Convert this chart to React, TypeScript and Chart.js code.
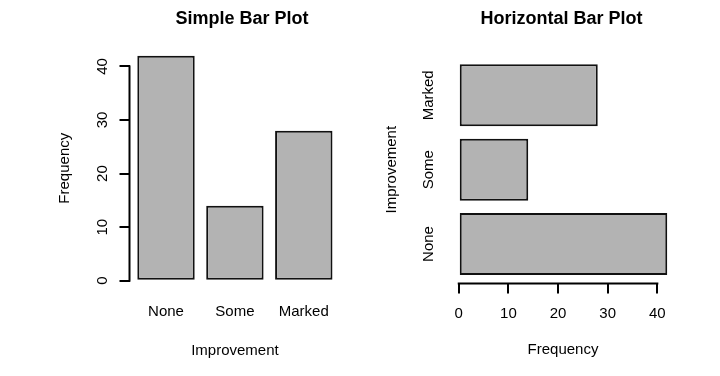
import React, { useEffect, useRef } from "react";
import { Chart, registerables } from "chart.js";

Chart.register(...registerables);

// ---- data ----
const categories = ["None", "Some", "Marked"];
const frequencies = [42, 14, 28];
const freqTicks = [0, 10, 20, 30, 40];
const leftTitle = "Simple Bar Plot";
const rightTitle = "Horizontal Bar Plot";
const catAxisTitle = "Improvement";
const valAxisTitle = "Frequency";

// ---- R barplot layout constants (width 1, space 0.2, 4% axis extension) ----
const BAR_W = 1;
const BAR_SPACE = 0.2;
const centers = categories.map((_, i) => BAR_SPACE + BAR_W / 2 + i * (BAR_W + BAR_SPACE));
const ext = (a: number, b: number) => {
  const d = (b - a) * 0.04;
  return [a - d, b + d];
};
const [catMin, catMax] = ext(BAR_SPACE, categories.length * (BAR_W + BAR_SPACE));
const [valMin, valMax] = ext(0, Math.max(...frequencies));

const FONT = "'Liberation Sans', Arial, Helvetica, sans-serif";
const FILL = "#b3b3b3";
const INK = "#000000";
const EDGE = "#111111";
const LINE_W = 2;

Chart.defaults.font.family = FONT;
Chart.defaults.font.size = 15;
Chart.defaults.color = INK;

const axisLinePlugin = {
  id: "axisLine",
  afterDatasetsDraw(chart: any, _args: any, opts: any) {
    if (!opts || !opts.scale) return;
    const s = chart.scales[opts.scale];
    const { ctx, chartArea } = chart;
    const a = s.getPixelForValue(opts.from);
    const b = s.getPixelForValue(opts.to);
    ctx.save();
    ctx.strokeStyle = INK;
    ctx.lineWidth = opts.width ?? LINE_W;
    ctx.lineCap = "square";
    ctx.beginPath();
    if (s.isHorizontal()) {
      const y = chartArea.bottom;
      ctx.moveTo(a, y);
      ctx.lineTo(b, y);
    } else {
      const x = chartArea.left;
      ctx.moveTo(x, a);
      ctx.lineTo(x, b);
    }
    ctx.stroke();
    ctx.restore();
  },
};

const barStyle = {
  backgroundColor: FILL,
  borderColor: EDGE,
  borderWidth: LINE_W,
  borderSkipped: false,
  categoryPercentage: 1,
  barPercentage: BAR_W / (BAR_W + BAR_SPACE),
};

const titleFont = { size: 18, weight: "bold" as const, family: FONT };

function leftConfig(): any {
  return {
    type: "bar",
    data: {
      datasets: [
        {
          ...barStyle,
          data: centers.map((c, i) => ({ x: c, y: frequencies[i] })),
          xAxisID: "x",
          yAxisID: "y",
        },
      ],
    },
    plugins: [axisLinePlugin],
    options: {
      responsive: false,
      animation: false,
      devicePixelRatio: 1,
      layout: { padding: 0 },
      plugins: {
        legend: { display: false },
        tooltip: { enabled: false },
        title: {
          display: true,
          text: leftTitle,
          font: titleFont,
          color: INK,
          padding: { top: 8.4, bottom: 16.7 },
        },
        axisLine: { scale: "y", from: freqTicks[0], to: freqTicks[freqTicks.length - 1] },
      },
      scales: {
        x: {
          type: "linear",
          position: "bottom",
          offset: false,
          min: catMin,
          max: catMax,
          bounds: "data",
          grid: { display: false, drawTicks: false, offset: false },
          border: { display: false },
          afterBuildTicks: (s: any) => {
            s.ticks = centers.map((v) => ({ value: v }));
          },
          ticks: {
            callback: (_v: any, i: number) => categories[i],
            autoSkip: false,
            maxRotation: 0,
            minRotation: 0,
            padding: 13.6,
            color: INK,
          },
          title: { display: true, text: catAxisTitle, color: INK, padding: { top: 0, bottom: 16 } },
          afterFit: (s: any) => {
            s.height = 86.3;
          },
        },
        y: {
          type: "linear",
          position: "left",
          min: valMin,
          max: valMax,
          bounds: "data",
          grid: { display: true, drawOnChartArea: false, drawTicks: true, tickLength: 10, color: INK, lineWidth: LINE_W },
          border: { display: false },
          afterBuildTicks: (s: any) => {
            s.ticks = freqTicks.map((v) => ({ value: v }));
          },
          ticks: { minRotation: 90, maxRotation: 90, crossAlign: "center", padding: 7.8, autoSkip: false, color: INK },
          title: { display: true, text: valAxisTitle, color: INK, padding: { top: 56, bottom: 0 } },
          afterFit: (s: any) => {
            s.width = 129.5;
          },
        },
        pad: {
          type: "linear",
          position: "right",
          display: true,
          grid: { display: false, drawTicks: false },
          border: { display: false },
          ticks: { display: false },
          afterFit: (s: any) => {
            s.width = 484 - 340.3;
          },
        },
      },
    },
  };
}

function rightConfig(): any {
  return {
    type: "bar",
    data: {
      datasets: [
        {
          ...barStyle,
          data: centers.map((c, i) => ({ x: frequencies[i], y: c })),
          xAxisID: "x",
          yAxisID: "y",
        },
      ],
    },
    plugins: [axisLinePlugin],
    options: {
      indexAxis: "y",
      responsive: false,
      animation: false,
      devicePixelRatio: 1,
      layout: { padding: 0 },
      plugins: {
        legend: { display: false },
        tooltip: { enabled: false },
        title: {
          display: true,
          text: rightTitle,
          font: titleFont,
          color: INK,
          padding: { top: 8.4, bottom: 25.9 },
        },
        axisLine: { scale: "x", from: freqTicks[0], to: freqTicks[freqTicks.length - 1] },
      },
      scales: {
        x: {
          type: "linear",
          position: "bottom",
          min: valMin,
          max: valMax,
          bounds: "data",
          grid: { display: true, drawOnChartArea: false, drawTicks: true, tickLength: 10, color: INK, lineWidth: LINE_W },
          border: { display: false },
          afterBuildTicks: (s: any) => {
            s.ticks = freqTicks.map((v) => ({ value: v }));
          },
          ticks: { maxRotation: 0, minRotation: 0, padding: 11, autoSkip: false, color: INK },
          title: { display: true, text: valAxisTitle, color: INK, padding: { top: 0, bottom: 17.5 } },
          afterFit: (s: any) => {
            s.height = 376 - 283.4;
          },
        },
        y: {
          type: "linear",
          position: "left",
          offset: false,
          min: catMin,
          max: catMax,
          bounds: "data",
          grid: { display: false, drawTicks: false, offset: false },
          border: { display: false },
          afterBuildTicks: (s: any) => {
            s.ticks = centers.map((v) => ({ value: v }));
          },
          ticks: {
            callback: (_v: any, i: number) => categories[i],
            minRotation: 90,
            maxRotation: 90,
            crossAlign: "center",
            padding: -3,
            autoSkip: false,
            color: INK,
          },
          title: { display: true, text: catAxisTitle, color: INK, padding: { top: 2.7, bottom: 0 } },
          afterFit: (s: any) => {
            s.width = 70.4;
          },
        },
        pad: {
          type: "linear",
          position: "right",
          display: true,
          grid: { display: false, drawTicks: false },
          border: { display: false },
          ticks: { display: false },
          afterFit: (s: any) => {
            s.width = 363 - 295.6;
          },
        },
      },
    },
  };
}

function ChartCanvas({ config, left, width }: { config: () => any; left: number; width: number }) {
  const ref = useRef<HTMLCanvasElement | null>(null);
  useEffect(() => {
    if (!ref.current) return;
    const chart = new Chart(ref.current, config());
    return () => chart.destroy();
  }, [config]);
  return (
    <canvas
      ref={ref}
      width={width}
      height={376}
      style={{ position: "absolute", left, top: 0, width, height: 376 }}
    />
  );
}

export default function App() {
  return (
    <div
      style={{
        position: "absolute",
        left: 0,
        top: 0,
        width: 720,
        height: 376,
        overflow: "hidden",
        background: "#ffffff",
      }}
    >
      <ChartCanvas config={leftConfig} left={0} width={484} />
      <ChartCanvas config={rightConfig} left={380} width={363} />
    </div>
  );
}
